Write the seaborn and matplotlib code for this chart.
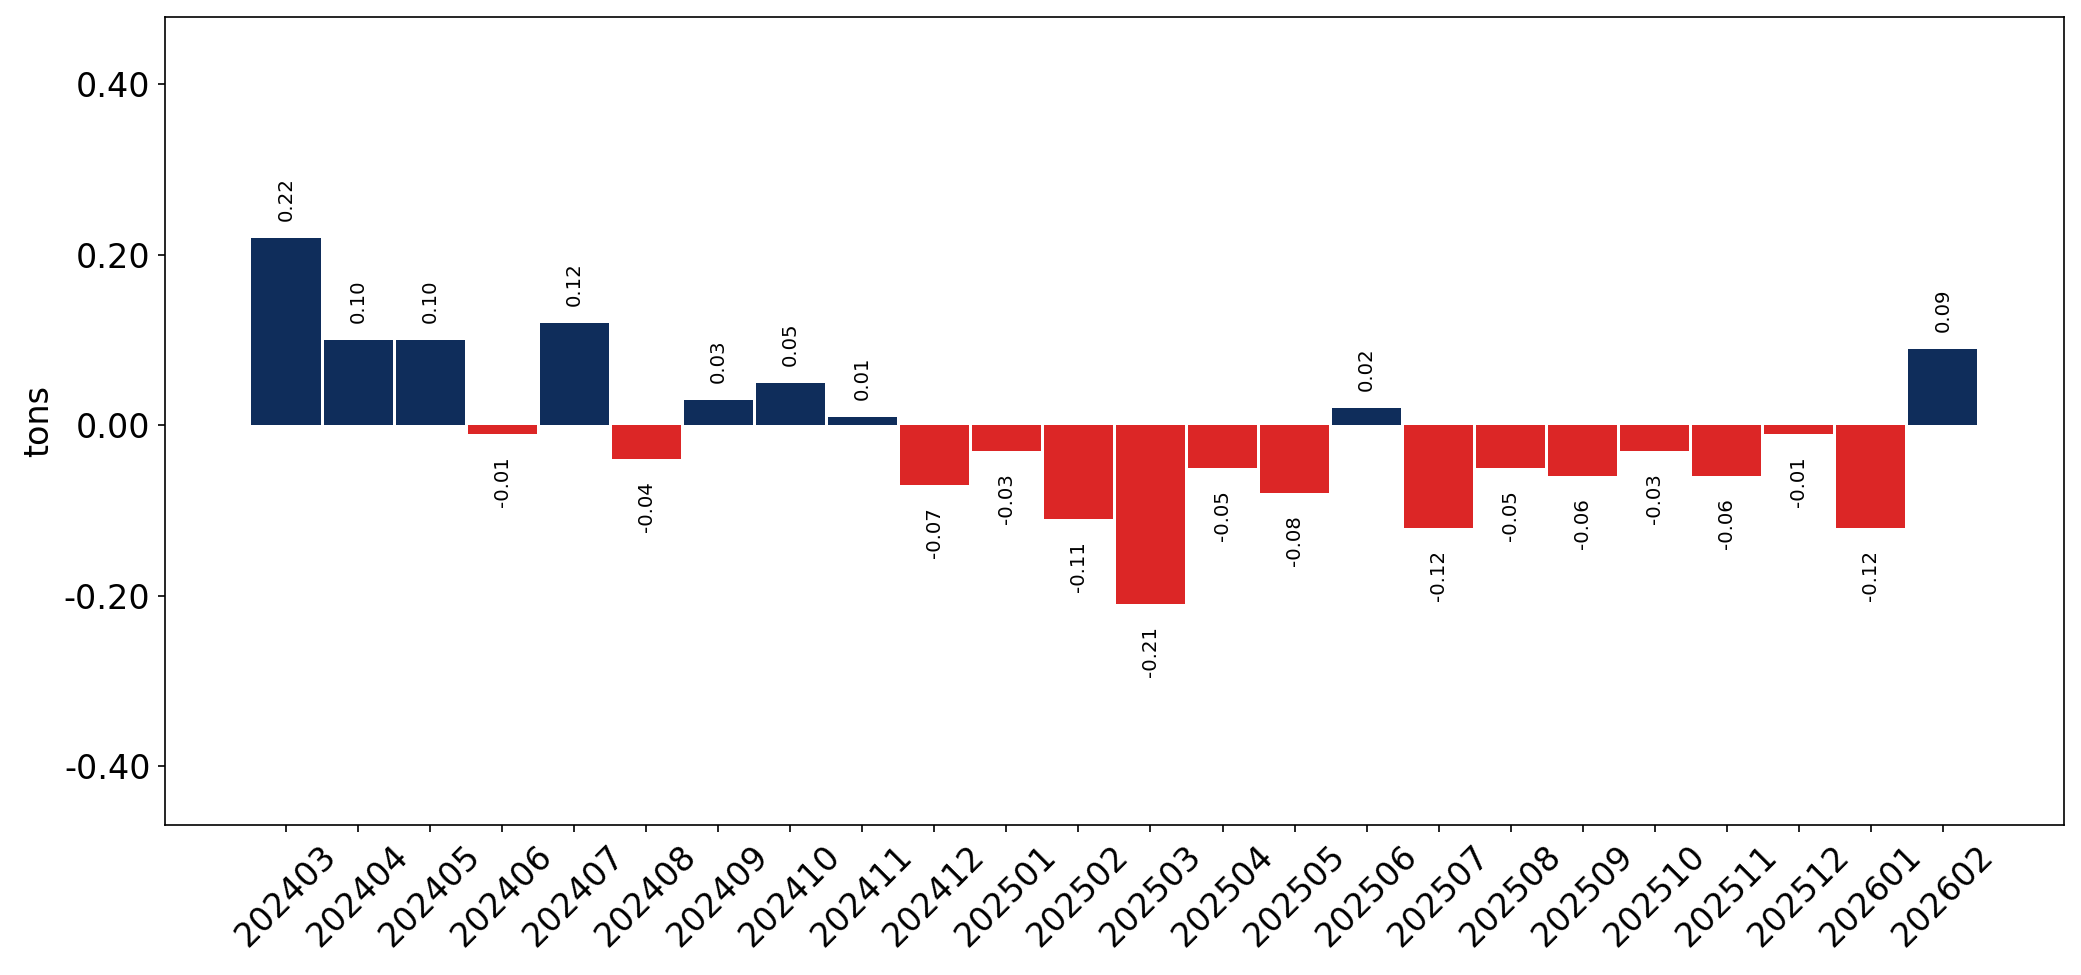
import pandas as pd
import matplotlib
matplotlib.use('Agg')
import matplotlib.pyplot as plt
import seaborn as sns

# 데이터
months = ['202403', '202404', '202405', '202406', '202407', '202408', '202409', '202410',
          '202411', '202412', '202501', '202502', '202503', '202504', '202505', '202506',
          '202507', '202508', '202509', '202510', '202511', '202512', '202601', '202602']
changes = [0.22, 0.10, 0.10, -0.01, 0.12, -0.04, 0.03, 0.05,
           0.01, -0.07, -0.03, -0.11, -0.21, -0.05, -0.08, 0.02,
           -0.12, -0.05, -0.06, -0.03, -0.06, -0.01, -0.12, 0.09]

df = pd.DataFrame({'month': months, 'change': changes})
df['sign'] = ['pos' if v >= 0 else 'neg' for v in df['change']]

sns.set_style('ticks')
plt.rcParams['font.family'] = ['DejaVu Sans']
for k in ['text.color', 'axes.labelcolor', 'xtick.color', 'ytick.color', 'axes.edgecolor']:
    plt.rcParams[k] = 'black'

fig, ax = plt.subplots(figsize=(2081 / 150, 975 / 150), dpi=150)
fig.subplots_adjust(left=0.0793, right=0.9918, top=0.9826, bottom=0.1538)

sns.barplot(data=df, x='month', y='change', hue='sign', order=months,
            palette={'pos': '#0f2d5b', 'neg': '#dc2626'}, saturation=1, dodge=False,
            width=0.96, linewidth=0, legend=False, ax=ax)

# 막대 값 라벨
for i, v in enumerate(changes):
    off = 0.02 if v >= 0 else -0.026
    ax.text(i, v + off, f'{v:.2f}', rotation=90, fontsize=9.5,
            ha='center', va='bottom' if v >= 0 else 'top')

ax.set_xlim(-1.68, 24.68)
ax.set_ylim(-0.469, 0.479)
ax.set_yticks([-0.4, -0.2, 0.0, 0.2, 0.4])
ax.yaxis.set_major_formatter(matplotlib.ticker.FormatStrFormatter('%.2f'))
ax.tick_params(axis='y', labelsize=16)
ax.tick_params(axis='x', labelsize=16, rotation=45)
ax.set_xlabel('')
ax.set_ylabel('tons', fontsize=16)
for s in ax.spines.values():
    s.set_visible(True)

plt.savefig('out.png', dpi=150)
plt.close()
